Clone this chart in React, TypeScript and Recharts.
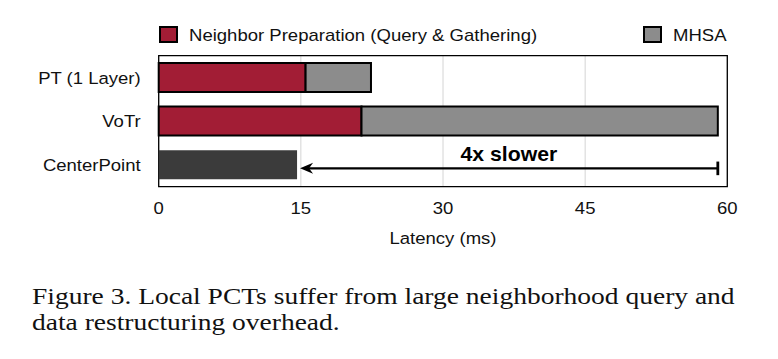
import React from 'react';
import {
  BarChart,
  Bar,
  XAxis,
  YAxis,
  CartesianGrid,
  ReferenceArea,
  ReferenceLine,
  Label,
} from 'recharts';

// Latency breakdown per model (ms)
const models = ['PT (1 Layer)', 'VoTr', 'CenterPoint'];
const neighborPrep: (number | null)[] = [15.5, 21.4, null];
const mhsa: (number | null)[] = [6.9, 37.6, null];
const denseBackbone: (number | null)[] = [null, null, 14.6];
const xTicks = [0, 15, 30, 45, 60];

const seriesNames = ['Neighbor Preparation (Query & Gathering)', 'MHSA'];
const axisTitle = 'Latency (ms)';
const slowdownText = '4x slower';
const captionLines = [
  'Figure 3. Local PCTs suffer from large neighborhood query and',
  'data restructuring overhead.',
];

const RED = '#a21d35';
const GRAY = '#8c8c8c';
const DARK = '#3b3b3b';
const SANS = '"Liberation Sans", Arial, Helvetica, sans-serif';
const SERIF = '"Liberation Serif", "Times New Roman", Times, serif';
// glyphs are set slightly wide
const WIDE = 1.09;
const FONT = 17;

const data = models.map((name, i) => ({
  name,
  prep: neighborPrep[i],
  mhsa: mhsa[i],
  dense: denseBackbone[i],
}));

const fastest = denseBackbone[2] as number;
const slowest = (neighborPrep[1] as number) + (mhsa[1] as number);

const wide = (x: number, k = WIDE) => `translate(${x},0) scale(${k},1) translate(${-x},0)`;

const XTick = (props: any) => {
  const { x, y, payload } = props;
  return (
    <text
      x={x}
      y={y}
      dy="0.71em"
      textAnchor="middle"
      fontFamily={SANS}
      fontSize={FONT}
      fill="#111"
      transform={wide(x)}
    >
      {payload.value}
    </text>
  );
};

const YTick = (props: any) => {
  const { x, y, payload } = props;
  return (
    <text
      x={x}
      y={y}
      dy="0.355em"
      textAnchor="end"
      fontFamily={SANS}
      fontSize={FONT}
      fill="#111"
      transform={wide(x)}
    >
      {payload.value}
    </text>
  );
};

const AxisTitle = (props: any) => {
  const { viewBox } = props;
  const cx = viewBox.x + viewBox.width / 2;
  const cy = viewBox.y + viewBox.height + 11;
  return (
    <text
      x={cx}
      y={cy}
      dy="0.355em"
      textAnchor="middle"
      fontFamily={SANS}
      fontSize={FONT}
      fill="#111"
      transform={wide(cx)}
    >
      {axisTitle}
    </text>
  );
};

const SlowdownArrow = (props: any) => {
  const { x1, y1, x2 } = props;
  const y = y1 + 3.5;
  const tip = x1 + 3;
  const cx = (tip + x2) / 2;
  return (
    <g>
      <line x1={tip + 6} y1={y} x2={x2} y2={y} stroke="#000" strokeWidth={2.2} />
      <path
        d={`M${tip},${y} L${tip + 13},${y - 5.5} L${tip + 9},${y} L${tip + 13},${y + 5.5} Z`}
        fill="#000"
      />
      <line x1={x2} y1={y - 6.8} x2={x2} y2={y + 6.8} stroke="#000" strokeWidth={2.8} />
      <text
        x={cx}
        y={y - 14}
        dy="0.355em"
        textAnchor="middle"
        fontFamily={SANS}
        fontWeight="bold"
        fontSize={19.5}
        fill="#000"
        transform={wide(cx)}
      >
        {slowdownText}
      </text>
    </g>
  );
};

const LegendItem = ({ color, label, left }: { color: string; label: string; left: number }) => (
  <div
    style={{
      position: 'absolute',
      left,
      top: 25.5,
      height: 17.5,
      display: 'flex',
      alignItems: 'center',
      fontFamily: SANS,
      fontSize: FONT,
      color: '#111',
      whiteSpace: 'nowrap',
    }}
  >
    <div
      style={{
        width: 18.5,
        height: 17.5,
        boxSizing: 'border-box',
        background: color,
        border: '2px solid #000',
        marginRight: 11,
        flex: 'none',
      }}
    />
    <span
      style={{
        display: 'inline-block',
        position: 'relative',
        top: 1.5,
        transform: `scaleX(${WIDE})`,
        transformOrigin: 'left center',
      }}
    >
      {label}
    </span>
  </div>
);

export default function App() {
  return (
    <div
      style={{
        position: 'absolute',
        left: 0,
        top: 0,
        width: 778,
        height: 359,
        background: '#fff',
        overflow: 'hidden',
      }}
    >
      <LegendItem color={RED} label={seriesNames[0]} left={159} />
      <LegendItem color={GRAY} label={seriesNames[1]} left={643} />

      <div style={{ position: 'absolute', left: 0, top: 0 }}>
        <BarChart
          width={778}
          height={260}
          data={data}
          layout="vertical"
          margin={{ top: 55.7, right: 50.7, bottom: 33.3, left: 0 }}
          barCategoryGap="16.5%"
        >
          <CartesianGrid horizontal={false} stroke="#d4d4d4" strokeWidth={1} />
          <XAxis
            type="number"
            domain={[0, 60]}
            ticks={xTicks}
            axisLine={false}
            tickLine={false}
            tickMargin={9}
            height={40}
            tick={<XTick />}
          >
            <Label content={<AxisTitle />} />
          </XAxis>
          <YAxis
            type="category"
            dataKey="name"
            width={158.7}
            axisLine={false}
            tickLine={false}
            tickMargin={12}
            tick={<YTick />}
          />
          <Bar dataKey="prep" stackId="t" fill={RED} stroke="#000" strokeWidth={2} isAnimationActive={false} />
          <Bar dataKey="mhsa" stackId="t" fill={GRAY} stroke="#000" strokeWidth={2} isAnimationActive={false} />
          <Bar dataKey="dense" stackId="t" fill={DARK} isAnimationActive={false} />
          <ReferenceLine
            segment={[
              { x: fastest, y: models[2] },
              { x: slowest, y: models[2] },
            ]}
            ifOverflow="visible"
            shape={SlowdownArrow}
          />
          <ReferenceArea
            x1={0}
            x2={60}
            fill="none"
            fillOpacity={0}
            stroke="#000"
            strokeWidth={1.3}
            ifOverflow="visible"
          />
        </BarChart>
      </div>

      <div
        style={{
          position: 'absolute',
          left: 31.7,
          top: 283.3,
          fontFamily: SERIF,
          fontSize: 23.5,
          lineHeight: '26px',
          color: '#111',
          whiteSpace: 'nowrap',
          transform: 'scaleX(1.17)',
          transformOrigin: 'left top',
        }}
      >
        {captionLines.map((line) => (
          <div key={line}>{line}</div>
        ))}
      </div>
    </div>
  );
}
